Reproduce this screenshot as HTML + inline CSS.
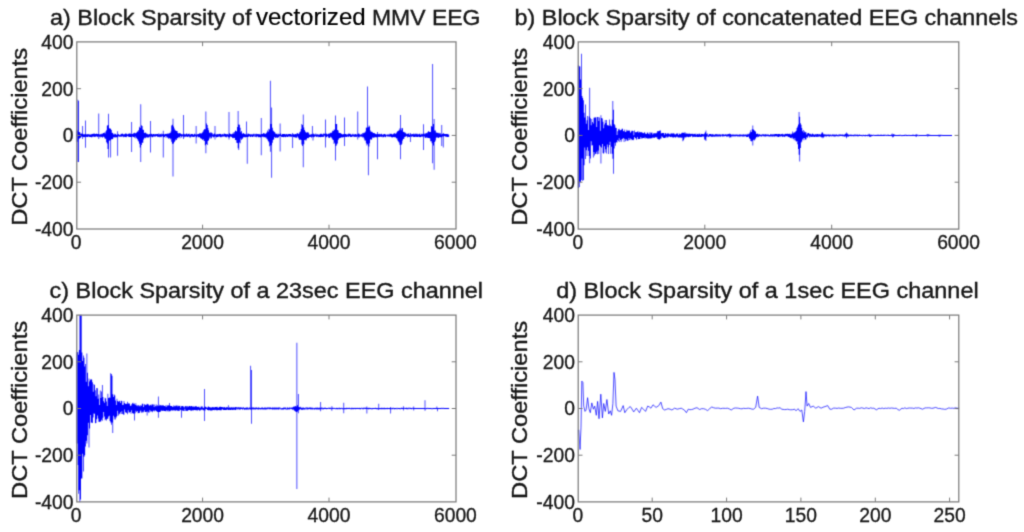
<!DOCTYPE html>
<html lang="en"><head><meta charset="utf-8"><title>Block Sparsity of EEG DCT Coefficients</title>
<style>
html,body{margin:0;padding:0;background:#fff;}
body{width:1024px;height:532px;overflow:hidden;}
svg{display:block;font-family:"Liberation Sans",Arial,Helvetica,sans-serif;}
.tt{font-size:21.5px;fill:#161616;stroke:#161616;stroke-width:0.35px;}
.tt .vz{font-size:23.2px;fill:#000;stroke:#000;stroke-width:0.2px;}
.tk{font-size:19.3px;fill:#161616;stroke:#161616;stroke-width:0.3px;}
.yl{font-size:22.7px;fill:#161616;stroke:#161616;stroke-width:0.35px;}
.ln{fill:#0000ff;stroke:none;filter:url(#bl);}
.ld{fill:none;stroke:#0000ff;stroke-width:0.8;stroke-opacity:0.88;filter:url(#bl);stroke-linejoin:round;}
</style></head><body>
<svg width="1024" height="532" viewBox="0 0 1024 532">
<defs><filter id="bl" x="-2%" y="-5%" width="104%" height="110%"><feConvolveMatrix order="3" kernelMatrix="0.0289 0.1122 0.0289 0.1122 0.4356 0.1122 0.0289 0.1122 0.0289" edgeMode="none"/></filter><filter id="bl2" filterUnits="userSpaceOnUse" x="0" y="0" width="1024" height="532"><feConvolveMatrix order="3" kernelMatrix="0.0196 0.1008 0.0196 0.1008 0.5184 0.1008 0.0196 0.1008 0.0196" edgeMode="none"/></filter></defs>
<rect width="1024" height="532" fill="#fff"/>
<path class="ln" d="M76.75 130.6V130.6H77.45V99.7H78.15V100.8H78.85V132.0H79.55V132.2H80.25V133.7H80.95V133.4H81.65V133.7H82.35V126.1H83.05V134.2H83.75V134.3H84.45V134.2H85.15V120.5H85.85V134.1H86.55V134.7H87.25V134.1H87.95V134.2H88.65V134.2H89.35V134.6H90.05V134.6H90.75V134.4H91.45V134.1H92.15V134.0H92.85V133.6H93.55V133.9H94.25V133.5H94.95V134.0H95.65V134.1H96.35V133.6H97.05V134.0H97.75V133.9H98.45V113.5H99.15V134.5H99.85V134.0H100.55V134.4H101.25V133.8H101.95V134.0H102.65V133.0H103.35V133.0H104.05V132.6H104.75V133.4H105.45V131.6H106.15V130.3H106.85V125.8H107.55V125.1H108.25V113.7H108.95V128.1H109.65V129.1H110.35V128.4H111.05V130.0H111.75V132.8H112.45V132.9H113.15V134.2H113.85V134.5H114.55V133.4H115.25V134.1H115.95V134.8H116.65V134.5H117.35V131.2H118.05V133.9H118.75V134.7H119.45V135.1H120.15V134.6H120.85V133.8H121.55V134.0H122.25V133.6H122.95V134.2H123.65V134.5H124.35V134.1H125.05V133.6H125.75V133.7H126.45V133.7H127.15V134.6H127.85V134.0H128.55V133.6H129.25V133.6H129.95V133.6H130.65V134.0H131.35V122.1H132.05V134.1H132.75V133.7H133.45V133.1H134.15V132.8H134.85V133.6H135.55V133.0H136.25V132.4H136.95V131.6H137.65V131.4H138.35V130.1H139.05V126.8H139.75V127.9H140.45V104.3H141.15V125.2H141.85V126.0H142.55V129.5H143.25V130.0H143.95V133.0H144.65V132.4H145.35V132.8H146.05V133.4H146.75V133.8H147.45V134.3H148.15V134.4H148.85V134.1H149.55V134.3H150.25V120.9H150.95V133.8H151.65V134.0H152.35V134.4H153.05V134.0H153.75V134.0H154.45V134.5H155.15V134.1H155.85V134.2H156.55V133.9H157.25V134.1H157.95V133.6H158.65V134.8H159.35V133.8H160.05V134.1H160.75V134.5H161.45V133.4H162.15V134.3H162.85V130.8H163.55V134.1H164.25V134.4H164.95V134.1H165.65V133.7H166.35V133.9H167.05V133.4H167.75V134.0H168.45V133.2H169.15V133.3H169.85V133.0H170.55V131.6H171.25V125.4H171.95V124.8H172.65V118.8H173.35V126.4H174.05V128.4H174.75V130.3H175.45V130.5H176.15V130.9H176.85V131.0H177.55V132.9H178.25V133.5H178.95V133.0H179.65V133.6H180.35V133.5H181.05V134.1H181.75V134.4H182.45V134.3H183.15V115.1H183.85V133.8H184.55V134.6H185.25V134.2H185.95V133.5H186.65V133.8H187.35V134.6H188.05V134.0H188.75V133.6H189.45V134.6H190.15V134.5H190.85V134.0H191.55V133.9H192.25V134.1H192.95V135.0H193.65V133.9H194.35V133.8H195.05V134.4H195.75V126.1H196.45V134.6H197.15V134.2H197.85V134.0H198.55V133.9H199.25V133.2H199.95V133.0H200.65V133.9H201.35V133.0H202.05V132.4H202.75V131.4H203.45V129.9H204.15V129.0H204.85V129.2H205.55V111.6H206.25V123.5H206.95V125.1H207.65V127.9H208.35V130.3H209.05V133.1H209.75V132.0H210.45V133.3H211.15V132.6H211.85V133.0H212.55V134.6H213.25V134.2H213.95V133.5H214.65V126.1H215.35V134.6H216.05V134.5H216.75V134.0H217.45V134.2H218.15V134.2H218.85V133.9H219.55V133.7H220.25V133.9H220.95V134.4H221.65V134.4H222.35V134.1H223.05V134.6H223.75V133.6H224.45V133.7H225.15V134.0H225.85V134.1H226.55V134.5H227.25V134.0H227.95V134.4H228.65V112.1H229.35V133.3H230.05V134.0H230.75V134.2H231.45V134.2H232.15V133.7H232.85V132.6H233.55V133.7H234.25V132.0H234.95V130.5H235.65V131.0H236.35V131.4H237.05V126.9H237.75V111.1H238.45V124.6H239.15V124.8H239.85V127.8H240.55V132.2H241.25V130.9H241.95V133.7H242.65V133.6H243.35V133.1H244.05V133.9H244.75V133.8H245.45V134.6H246.15V121.4H246.85V134.4H247.55V133.6H248.25V133.7H248.95V134.2H249.65V134.0H250.35V134.5H251.05V134.2H251.75V134.5H252.45V134.2H253.15V133.8H253.85V134.5H254.55V133.8H255.25V134.2H255.95V133.7H256.65V134.2H257.35V134.0H258.05V134.1H258.75V134.4H259.45V134.0H260.15V134.5H260.85V118.1H261.55V134.1H262.25V134.0H262.95V133.1H263.65V133.6H264.35V133.4H265.05V134.1H265.75V133.2H266.45V132.4H267.15V130.5H267.85V131.8H268.55V128.8H269.25V129.6H269.95V80.7H270.65V123.9H271.35V107.4H272.05V127.7H272.75V130.6H273.45V131.3H274.15V131.9H274.85V132.8H275.55V134.1H276.25V133.8H276.95V134.4H277.65V133.4H278.35V134.2H279.05V134.3H279.75V123.5H280.45V133.6H281.15V135.1H281.85V134.0H282.55V134.1H283.25V133.9H283.95V134.0H284.65V134.0H285.35V134.4H286.05V134.0H286.75V134.3H287.45V134.6H288.15V134.0H288.85V133.9H289.55V134.0H290.25V134.1H290.95V134.4H291.65V134.6H292.35V133.1H293.05V134.0H293.75V134.7H294.45V134.1H295.15V134.0H295.85V134.2H296.55V133.6H297.25V133.1H297.95V134.0H298.65V133.5H299.35V132.2H300.05V131.6H300.75V129.1H301.45V124.1H302.15V125.1H302.85V114.4H303.55V127.4H304.25V129.9H304.95V131.5H305.65V132.3H306.35V132.8H307.05V132.3H307.75V132.3H308.45V133.2H309.15V134.4H309.85V134.9H310.55V134.0H311.25V134.2H311.95V126.1H312.65V134.3H313.35V133.6H314.05V134.2H314.75V134.8H315.45V133.6H316.15V134.5H316.85V133.9H317.55V134.7H318.25V134.5H318.95V134.7H319.65V133.9H320.35V133.7H321.05V133.7H321.75V134.2H322.45V134.5H323.15V133.6H323.85V133.8H324.55V133.8H325.25V119.5H325.95V133.5H326.65V134.0H327.35V134.4H328.05V133.8H328.75V133.4H329.45V133.5H330.15V132.7H330.85V132.9H331.55V132.2H332.25V130.8H332.95V131.0H333.65V129.5H334.35V129.8H335.05V115.6H335.75V124.0H336.45V124.0H337.15V130.0H337.85V130.4H338.55V132.7H339.25V133.1H339.95V133.0H340.65V133.4H341.35V133.9H342.05V134.4H342.75V134.0H343.45V134.2H344.15V117.4H344.85V134.1H345.55V134.1H346.25V134.4H346.95V134.4H347.65V134.3H348.35V133.6H349.05V133.8H349.75V133.7H350.45V134.3H351.15V134.7H351.85V134.5H352.55V133.8H353.25V134.6H353.95V134.5H354.65V134.2H355.35V134.1H356.05V134.4H356.75V134.5H357.45V111.6H358.15V133.6H358.85V133.7H359.55V134.6H360.25V134.7H360.95V133.9H361.65V134.5H362.35V133.1H363.05V133.3H363.75V132.4H364.45V132.7H365.15V131.6H365.85V127.8H366.55V127.4H367.25V86.6H367.95V127.3H368.65V125.5H369.35V126.6H370.05V130.6H370.75V132.0H371.45V131.6H372.15V132.2H372.85V132.9H373.55V132.9H374.25V133.3H374.95V133.7H375.65V134.1H376.35V134.3H377.05V131.9H377.75V134.0H378.45V134.2H379.15V133.7H379.85V134.5H380.55V133.9H381.25V133.8H381.95V134.9H382.65V134.1H383.35V134.5H384.05V133.9H384.75V134.1H385.45V134.7H386.15V134.7H386.85V134.5H387.55V134.4H388.25V134.4H388.95V134.6H389.65V133.6H390.35V134.1H391.05V133.7H391.75V134.3H392.45V134.5H393.15V133.8H393.85V133.4H394.55V132.9H395.25V134.0H395.95V133.3H396.65V132.0H397.35V130.9H398.05V130.7H398.75V130.3H399.45V128.4H400.15V115.1H400.85V130.2H401.55V128.1H402.25V128.3H402.95V131.8H403.65V131.9H404.35V132.6H405.05V132.8H405.75V133.4H406.45V134.3H407.15V133.8H407.85V133.7H408.55V133.3H409.25V134.8H409.95V133.1H410.65V134.2H411.35V134.3H412.05V134.0H412.75V134.2H413.45V133.6H414.15V134.2H414.85V133.6H415.55V134.2H416.25V133.7H416.95V133.7H417.65V134.6H418.35V134.3H419.05V133.8H419.75V133.7H420.45V135.0H421.15V133.7H421.85V134.3H422.55V133.7H423.25V124.2H423.95V134.2H424.65V133.1H425.35V133.8H426.05V133.0H426.75V133.3H427.45V132.1H428.15V130.9H428.85V132.1H429.55V131.7H430.25V131.9H430.95V125.9H431.65V126.7H432.35V64.1H433.05V124.1H433.75V119.1H434.45V130.4H435.15V130.5H435.85V132.8H436.55V132.3H437.25V132.9H437.95V133.3H438.65V132.8H439.35V133.6H440.05V133.2H440.75V134.5H441.45V124.9H442.15V134.1H442.85V133.1H443.55V133.8H444.25V134.0H444.95V134.0H445.65V134.0H446.35V134.1H447.05V134.1H447.75V134.3H448.45V134.8H449.15V136.8H448.45V137.0H447.75V136.9H447.05V136.8H446.35V136.7H445.65V136.5H444.95V136.0H444.25V136.4H443.55V147.4H442.85V136.4H442.15V146.0H441.45V137.2H440.75V137.3H440.05V137.0H439.35V137.8H438.65V137.9H437.95V137.5H437.25V137.2H436.55V137.7H435.85V140.6H435.15V141.9H434.45V169.8H433.75V145.5H433.05V163.3H432.35V143.3H431.65V141.2H430.95V141.3H430.25V138.4H429.55V138.0H428.85V138.1H428.15V138.0H427.45V137.4H426.75V137.6H426.05V137.9H425.35V137.6H424.65V136.5H423.95V150.0H423.25V136.2H422.55V137.1H421.85V136.6H421.15V137.1H420.45V137.2H419.75V136.9H419.05V136.4H418.35V137.0H417.65V136.9H416.95V137.0H416.25V136.6H415.55V137.0H414.85V137.0H414.15V136.9H413.45V136.7H412.75V136.3H412.05V136.9H411.35V136.2H410.65V142.0H409.95V137.1H409.25V137.0H408.55V136.7H407.85V137.5H407.15V136.3H406.45V136.2H405.75V136.8H405.05V137.0H404.35V138.8H403.65V138.9H402.95V140.5H402.25V143.8H401.55V145.0H400.85V159.3H400.15V144.8H399.45V142.4H398.75V141.5H398.05V140.4H397.35V138.5H396.65V138.2H395.95V137.2H395.25V137.6H394.55V137.0H393.85V137.0H393.15V137.4H392.45V137.3H391.75V137.2H391.05V136.8H390.35V136.5H389.65V136.7H388.95V136.5H388.25V136.6H387.55V136.5H386.85V135.8H386.15V137.2H385.45V137.0H384.75V136.6H384.05V136.9H383.35V137.4H382.65V136.6H381.95V137.1H381.25V136.6H380.55V136.7H379.85V137.0H379.15V136.8H378.45V137.0H377.75V159.3H377.05V137.3H376.35V137.5H375.65V137.0H374.95V137.4H374.25V137.3H373.55V138.1H372.85V137.4H372.15V139.2H371.45V140.1H370.75V139.3H370.05V143.2H369.35V146.6H368.65V175.2H367.95V144.2H367.25V145.4H366.55V143.3H365.85V140.5H365.15V140.4H364.45V138.5H363.75V137.3H363.05V137.6H362.35V136.5H361.65V136.7H360.95V136.5H360.25V136.6H359.55V137.4H358.85V137.3H358.15V139.4H357.45V136.3H356.75V137.1H356.05V136.7H355.35V137.0H354.65V136.8H353.95V136.4H353.25V136.6H352.55V136.5H351.85V136.9H351.15V136.9H350.45V136.9H349.75V136.1H349.05V136.7H348.35V137.0H347.65V136.3H346.95V136.9H346.25V136.9H345.55V136.8H344.85V146.0H344.15V136.9H343.45V137.2H342.75V137.5H342.05V137.1H341.35V138.1H340.65V137.8H339.95V138.1H339.25V138.8H338.55V140.0H337.85V143.4H337.15V144.5H336.45V145.9H335.75V160.5H335.05V142.7H334.35V144.0H333.65V140.0H332.95V139.6H332.25V138.2H331.55V137.3H330.85V136.8H330.15V137.9H329.45V137.7H328.75V137.6H328.05V135.9H327.35V137.1H326.65V137.3H325.95V147.4H325.25V136.6H324.55V135.6H323.85V137.1H323.15V136.9H322.45V136.7H321.75V136.9H321.05V137.3H320.35V137.0H319.65V136.9H318.95V137.3H318.25V136.3H317.55V137.0H316.85V136.9H316.15V136.1H315.45V136.8H314.75V136.7H314.05V137.3H313.35V140.6H312.65V136.8H311.95V137.7H311.25V136.8H310.55V136.9H309.85V136.9H309.15V137.7H308.45V138.2H307.75V138.0H307.05V139.2H306.35V140.7H305.65V139.7H304.95V140.1H304.25V144.2H303.55V167.3H302.85V146.1H302.15V144.4H301.45V140.1H300.75V139.5H300.05V139.9H299.35V139.3H298.65V137.7H297.95V136.6H297.25V137.6H296.55V137.7H295.85V137.4H295.15V137.2H294.45V137.2H293.75V136.9H293.05V148.1H292.35V136.3H291.65V137.0H290.95V136.6H290.25V136.9H289.55V136.3H288.85V136.4H288.15V136.9H287.45V136.9H286.75V136.5H286.05V137.2H285.35V136.9H284.65V136.7H283.95V137.3H283.25V136.9H282.55V137.0H281.85V137.0H281.15V136.0H280.45V151.4H279.75V136.3H279.05V136.9H278.35V137.8H277.65V137.8H276.95V137.5H276.25V137.6H275.55V138.0H274.85V137.0H274.15V139.3H273.45V139.9H272.75V142.7H272.05V177.8H271.35V145.3H270.65V151.8H269.95V146.2H269.25V142.2H268.55V141.0H267.85V139.6H267.15V138.8H266.45V137.6H265.75V137.4H265.05V137.1H264.35V137.4H263.65V136.7H262.95V136.7H262.25V136.8H261.55V155.3H260.85V137.5H260.15V136.9H259.45V137.2H258.75V137.3H258.05V136.6H257.35V136.4H256.65V137.2H255.95V136.9H255.25V135.6H254.55V137.0H253.85V136.2H253.15V137.1H252.45V136.9H251.75V136.3H251.05V137.0H250.35V137.1H249.65V136.0H248.95V136.7H248.25V136.9H247.55V163.7H246.85V137.0H246.15V137.6H245.45V136.9H244.75V137.2H244.05V137.1H243.35V138.0H242.65V139.0H241.95V140.1H241.25V138.6H240.55V143.3H239.85V142.5H239.15V150.0H238.45V148.3H237.75V143.1H237.05V142.7H236.35V139.9H235.65V139.9H234.95V138.1H234.25V137.7H233.55V138.2H232.85V138.1H232.15V137.0H231.45V136.7H230.75V136.6H230.05V137.4H229.35V139.4H228.65V137.2H227.95V136.5H227.25V136.8H226.55V137.4H225.85V136.9H225.15V136.6H224.45V136.4H223.75V136.4H223.05V136.8H222.35V136.4H221.65V137.3H220.95V137.3H220.25V137.0H219.55V136.3H218.85V136.7H218.15V137.0H217.45V136.9H216.75V137.4H216.05V136.4H215.35V139.4H214.65V136.8H213.95V137.4H213.25V136.8H212.55V136.6H211.85V138.2H211.15V138.5H210.45V136.8H209.75V138.5H209.05V140.2H208.35V141.1H207.65V145.1H206.95V143.9H206.25V153.2H205.55V145.2H204.85V141.1H204.15V140.4H203.45V139.0H202.75V140.0H202.05V138.7H201.35V138.8H200.65V137.9H199.95V137.0H199.25V137.6H198.55V137.1H197.85V136.2H197.15V137.3H196.45V143.4H195.75V136.3H195.05V136.7H194.35V136.8H193.65V137.0H192.95V136.7H192.25V136.9H191.55V136.2H190.85V137.4H190.15V137.4H189.45V136.5H188.75V136.4H188.05V137.0H187.35V136.7H186.65V136.5H185.95V136.7H185.25V136.6H184.55V137.3H183.85V139.0H183.15V136.2H182.45V136.5H181.75V137.4H181.05V136.0H180.35V138.2H179.65V137.1H178.95V137.2H178.25V138.2H177.55V138.3H176.85V140.0H176.15V139.4H175.45V140.7H174.75V142.0H174.05V143.4H173.35V176.4H172.65V143.7H171.95V141.8H171.25V138.6H170.55V139.5H169.85V138.1H169.15V139.0H168.45V137.8H167.75V137.4H167.05V136.4H166.35V137.8H165.65V136.0H164.95V137.0H164.25V137.3H163.55V157.4H162.85V136.3H162.15V136.6H161.45V137.2H160.75V136.7H160.05V137.2H159.35V136.5H158.65V137.1H157.95V137.0H157.25V136.1H156.55V136.3H155.85V136.6H155.15V137.0H154.45V136.1H153.75V136.7H153.05V137.3H152.35V137.3H151.65V136.6H150.95V152.5H150.25V136.6H149.55V137.3H148.85V137.4H148.15V137.5H147.45V137.5H146.75V137.3H146.05V138.3H145.35V137.4H144.65V138.2H143.95V139.4H143.25V142.8H142.55V142.8H141.85V145.1H141.15V161.9H140.45V147.5H139.75V143.7H139.05V141.6H138.35V140.5H137.65V138.9H136.95V137.7H136.25V138.4H135.55V136.4H134.85V137.8H134.15V137.0H133.45V136.9H132.75V136.6H132.05V152.1H131.35V136.9H130.65V136.9H129.95V137.1H129.25V136.9H128.55V136.5H127.85V136.0H127.15V136.7H126.45V137.2H125.75V136.9H125.05V137.0H124.35V136.4H123.65V137.3H122.95V136.6H122.25V136.3H121.55V136.9H120.85V136.4H120.15V137.1H119.45V136.2H118.75V136.4H118.05V155.8H117.35V137.2H116.65V137.2H115.95V137.2H115.25V137.8H114.55V137.1H113.85V137.4H113.15V138.9H112.45V139.3H111.75V139.2H111.05V157.4H110.35V140.2H109.65V140.7H108.95V157.4H108.25V148.9H107.55V143.4H106.85V142.2H106.15V138.8H105.45V138.8H104.75V137.6H104.05V136.8H103.35V136.8H102.65V137.8H101.95V137.1H101.25V136.6H100.55V137.6H99.85V136.8H99.15V139.0H98.45V136.4H97.75V136.9H97.05V136.4H96.35V136.2H95.65V136.9H94.95V136.9H94.25V136.6H93.55V136.7H92.85V136.8H92.15V137.4H91.45V137.1H90.75V137.1H90.05V136.9H89.35V136.7H88.65V136.6H87.95V137.1H87.25V136.9H86.55V136.7H85.85V147.8H85.15V137.1H84.45V137.3H83.75V137.1H83.05V139.0H82.35V136.8H81.65V136.4H80.95V137.8H80.25V138.0H79.55V139.1H78.85V161.9H78.15V161.9H77.45V141.8H76.75Z"/>
<path class="ln" d="M578.20 65.5V65.5H578.90V66.2H579.60V66.6H580.30V79.6H581.00V53.8H581.70V96.0H582.40V98.0H583.10V100.3H583.80V112.8H584.50V117.4H585.20V104.6H585.90V123.8H586.60V120.3H587.30V116.1H588.00V130.1H588.70V116.4H589.40V87.7H590.10V118.2H590.80V125.3H591.50V119.0H592.20V122.1H592.90V123.6H593.60V117.7H594.30V117.5H595.00V117.5H595.70V117.3H596.40V127.0H597.10V117.0H597.80V116.9H598.50V120.9H599.20V117.5H599.90V130.7H600.60V115.3H601.30V118.0H602.00V118.4H602.70V121.8H603.40V128.3H604.10V124.4H604.80V120.0H605.50V123.0H606.20V120.0H606.90V125.0H607.60V125.6H608.30V125.5H609.00V119.4H609.70V126.0H610.40V124.4H611.10V126.3H611.80V119.8H612.50V101.0H613.20V109.7H613.90V124.1H614.60V125.3H615.30V127.8H616.00V128.1H616.70V135.1H617.40V131.3H618.10V129.3H618.80V128.8H619.50V130.3H620.20V130.2H620.90V129.9H621.60V128.7H622.30V128.8H623.00V131.0H623.70V131.6H624.40V129.5H625.10V132.1H625.80V131.4H626.50V129.7H627.20V130.8H627.90V130.5H628.60V130.8H629.30V130.4H630.00V132.8H630.70V131.7H631.40V130.8H632.10V130.7H632.80V130.9H633.50V135.2H634.20V130.6H634.90V131.9H635.60V132.4H636.30V132.1H637.00V131.7H637.70V131.3H638.40V132.8H639.10V131.8H639.80V132.4H640.50V132.0H641.20V132.2H641.90V132.4H642.60V133.1H643.30V133.3H644.00V132.3H644.70V132.8H645.40V133.9H646.10V133.9H646.80V132.4H647.50V132.8H648.20V134.0H648.90V132.4H649.60V134.4H650.30V132.6H651.00V132.7H651.70V132.5H652.40V134.6H653.10V133.5H653.80V133.1H654.50V133.4H655.20V133.3H655.90V133.2H656.60V132.5H657.30V131.1H658.00V131.2H658.70V131.0H659.40V130.6H660.10V130.5H660.80V133.4H661.50V133.1H662.20V133.1H662.90V132.9H663.60V133.0H664.30V134.7H665.00V133.0H665.70V133.4H666.40V134.3H667.10V133.2H667.80V133.8H668.50V133.2H669.20V134.2H669.90V134.2H670.60V133.2H671.30V133.4H672.00V133.4H672.70V133.4H673.40V133.3H674.10V133.7H674.80V134.8H675.50V134.0H676.20V133.4H676.90V133.4H677.60V133.4H678.30V135.0H679.00V133.6H679.70V134.2H680.40V133.9H681.10V133.3H681.80V132.7H682.50V132.7H683.20V132.8H683.90V133.2H684.60V132.1H685.30V133.5H686.00V133.6H686.70V133.6H687.40V133.7H688.10V133.8H688.80V133.8H689.50V133.6H690.20V133.9H690.90V133.8H691.60V133.9H692.30V133.8H693.00V134.3H693.70V133.7H694.40V134.0H695.10V133.7H695.80V134.9H696.50V133.8H697.20V133.9H697.90V134.4H698.60V133.8H699.30V133.8H700.00V134.7H700.70V133.8H701.40V134.1H702.10V133.9H702.80V134.3H703.50V134.3H704.20V133.5H704.90V132.3H705.60V130.5H706.30V133.7H707.00V133.6H707.70V135.4H708.40V134.4H709.10V134.0H709.80V134.0H710.50V134.0H711.20V134.5H711.90V134.0H712.60V134.4H713.30V134.5H714.00V134.8H714.70V134.6H715.40V134.1H716.10V134.2H716.80V134.3H717.50V134.5H718.20V134.6H718.90V134.2H719.60V134.5H720.30V134.6H721.00V134.8H721.70V134.2H722.40V134.2H723.10V134.2H723.80V134.7H724.50V134.4H725.20V134.3H725.90V134.5H726.60V134.6H727.30V134.3H728.00V134.1H728.70V134.2H729.40V133.4H730.10V133.9H730.80V134.4H731.50V134.7H732.20V134.4H732.90V134.3H733.60V134.9H734.30V134.4H735.00V134.8H735.70V134.3H736.40V134.7H737.10V134.6H737.80V135.0H738.50V134.4H739.20V134.5H739.90V134.4H740.60V134.6H741.30V134.8H742.00V134.8H742.70V134.3H743.40V134.5H744.10V134.8H744.80V134.3H745.50V134.8H746.20V134.4H746.90V134.4H747.60V133.8H748.30V134.2H749.00V133.6H749.70V132.2H750.40V130.3H751.10V131.9H751.80V129.3H752.50V125.6H753.20V129.6H753.90V130.3H754.60V131.0H755.30V131.7H756.00V134.1H756.70V133.4H757.40V133.8H758.10V134.4H758.80V134.1H759.50V134.4H760.20V134.8H760.90V134.8H761.60V134.5H762.30V134.3H763.00V134.3H763.70V134.4H764.40V134.6H765.10V134.3H765.80V134.3H766.50V134.8H767.20V134.5H767.90V134.3H768.60V135.1H769.30V135.0H770.00V134.2H770.70V134.2H771.40V134.4H772.10V134.3H772.80V134.7H773.50V134.1H774.20V134.2H774.90V134.1H775.60V134.0H776.30V134.0H777.00V134.2H777.70V134.0H778.40V134.0H779.10V133.9H779.80V134.2H780.50V134.5H781.20V133.9H781.90V133.8H782.60V134.3H783.30V134.5H784.00V134.4H784.70V133.9H785.40V133.8H786.10V133.9H786.80V133.8H787.50V133.8H788.20V134.1H788.90V134.0H789.60V133.6H790.30V134.4H791.00V134.3H791.70V133.5H792.40V131.6H793.10V133.2H793.80V132.3H794.50V132.5H795.20V131.5H795.90V130.7H796.60V128.0H797.30V126.5H798.00V124.4H798.70V112.0H799.40V116.7H800.10V123.3H800.80V124.8H801.50V128.0H802.20V131.2H802.90V130.1H803.60V132.6H804.30V131.3H805.00V132.3H805.70V132.2H806.40V134.4H807.10V133.6H807.80V133.0H808.50V133.1H809.20V134.1H809.90V133.7H810.60V134.3H811.30V134.4H812.00V133.6H812.70V133.9H813.40V134.4H814.10V134.7H814.80V133.9H815.50V134.5H816.20V134.3H816.90V134.0H817.60V134.0H818.30V134.4H819.00V134.1H819.70V134.8H820.40V134.3H821.10V133.4H821.80V131.9H822.50V132.9H823.20V134.3H823.90V134.2H824.60V134.5H825.30V134.5H826.00V134.4H826.70V134.8H827.40V134.4H828.10V134.5H828.80V134.6H829.50V134.8H830.20V134.4H830.90V135.2H831.60V134.4H832.30V134.4H833.00V134.5H833.70V134.7H834.40V134.5H835.10V134.8H835.80V134.5H836.50V134.5H837.20V135.1H837.90V134.8H838.60V134.6H839.30V134.5H840.00V134.6H840.70V134.6H841.40V134.8H842.10V134.6H842.80V134.5H843.50V135.0H844.20V134.4H844.90V133.8H845.60V133.7H846.30V132.5H847.00V133.6H847.70V134.3H848.40V134.8H849.10V134.7H849.80V134.7H850.50V134.6H851.20V134.8H851.90V134.8H852.60V135.0H853.30V134.7H854.00V134.6H854.70V134.7H855.40V134.6H856.10V134.8H856.80V134.7H857.50V134.6H858.20V135.1H858.90V134.6H859.60V134.8H860.30V135.0H861.00V134.9H861.70V134.7H862.40V135.2H863.10V134.7H863.80V135.0H864.50V134.9H865.20V134.7H865.90V135.1H866.60V135.0H867.30V134.8H868.00V134.8H868.70V133.8H869.40V134.5H870.10V134.7H870.80V134.8H871.50V134.8H872.20V135.0H872.90V134.7H873.60V134.7H874.30V134.9H875.00V134.9H875.70V134.7H876.40V135.0H877.10V134.8H877.80V134.8H878.50V134.7H879.20V134.9H879.90V134.7H880.60V134.8H881.30V134.8H882.00V135.0H882.70V134.8H883.40V134.8H884.10V134.8H884.80V134.8H885.50V134.8H886.20V135.0H886.90V134.7H887.60V134.8H888.30V134.8H889.00V134.9H889.70V134.9H890.40V134.9H891.10V134.5H891.80V133.5H892.50V134.8H893.20V134.1H893.90V134.5H894.60V134.7H895.30V134.9H896.00V135.0H896.70V135.0H897.40V134.9H898.10V134.9H898.80V134.8H899.50V135.1H900.20V134.8H900.90V135.0H901.60V135.2H902.30V134.9H903.00V135.1H903.70V134.9H904.40V134.8H905.10V134.8H905.80V134.8H906.50V134.9H907.20V134.9H907.90V135.1H908.60V134.8H909.30V135.0H910.00V134.9H910.70V134.9H911.40V135.1H912.10V134.8H912.80V134.8H913.50V134.8H914.20V134.9H914.90V135.1H915.60V134.2H916.30V134.6H917.00V134.8H917.70V134.8H918.40V135.2H919.10V135.0H919.80V135.0H920.50V134.9H921.20V135.0H921.90V135.0H922.60V135.0H923.30V135.0H924.00V135.0H924.70V135.0H925.40V134.9H926.10V134.8H926.80V134.4H927.50V134.3H928.20V134.6H928.90V134.7H929.60V134.8H930.30V134.9H931.00V135.1H931.70V135.0H932.40V134.9H933.10V135.0H933.80V135.0H934.50V134.9H935.20V134.9H935.90V135.0H936.60V134.9H937.30V135.0H938.00V135.0H938.70V134.5H939.40V135.1H940.10V134.7H940.80V134.9H941.50V134.8H942.20V134.9H942.90V134.9H943.60V135.0H944.30V134.9H945.00V134.9H945.70V134.9H946.40V134.9H947.10V135.0H947.80V135.0H948.50V134.9H949.20V134.9H949.90V134.9H950.60V134.9H951.30V134.9H952.00V135.9H951.30V135.9H950.60V135.9H949.90V135.9H949.20V135.9H948.50V136.0H947.80V136.0H947.10V135.9H946.40V135.9H945.70V135.9H945.00V136.0H944.30V136.0H943.60V135.9H942.90V135.9H942.20V135.8H941.50V135.9H940.80V136.3H940.10V136.3H939.40V136.8H938.70V136.0H938.00V136.0H937.30V135.9H936.60V136.0H935.90V135.9H935.20V135.9H934.50V136.0H933.80V136.0H933.10V136.0H932.40V136.0H931.70V136.1H931.00V135.9H930.30V136.0H929.60V136.0H928.90V136.0H928.20V136.8H927.50V135.8H926.80V136.0H926.10V136.0H925.40V136.0H924.70V136.0H924.00V136.0H923.30V136.0H922.60V136.0H921.90V136.0H921.20V135.9H920.50V136.0H919.80V136.0H919.10V136.2H918.40V135.8H917.70V136.1H917.00V136.4H916.30V136.7H915.60V136.1H914.90V136.0H914.20V136.0H913.50V135.9H912.80V136.0H912.10V136.1H911.40V135.9H910.70V135.9H910.00V136.0H909.30V135.8H908.60V136.1H907.90V135.9H907.20V135.9H906.50V135.9H905.80V135.8H905.10V136.0H904.40V136.0H903.70V136.1H903.00V136.0H902.30V136.2H901.60V136.0H900.90V135.8H900.20V136.1H899.50V136.0H898.80V135.9H898.10V135.9H897.40V136.0H896.70V136.0H896.00V135.9H895.30V135.9H894.60V136.1H893.90V136.7H893.20V137.5H892.50V136.6H891.80V136.1H891.10V135.9H890.40V136.1H889.70V136.0H889.00V135.9H888.30V136.1H887.60V135.7H886.90V136.1H886.20V135.8H885.50V135.8H884.80V135.9H884.10V136.0H883.40V135.9H882.70V136.0H882.00V136.1H881.30V136.1H880.60V136.1H879.90V135.9H879.20V135.9H878.50V135.9H877.80V136.1H877.10V136.1H876.40V136.0H875.70V136.1H875.00V136.1H874.30V135.8H873.60V135.7H872.90V136.1H872.20V135.9H871.50V136.5H870.80V136.8H870.10V137.0H869.40V136.2H868.70V136.1H868.00V136.2H867.30V136.0H866.60V136.1H865.90V136.2H865.20V136.2H864.50V136.1H863.80V136.0H863.10V136.2H862.40V136.2H861.70V135.9H861.00V136.0H860.30V136.0H859.60V135.9H858.90V136.2H858.20V136.2H857.50V136.2H856.80V135.9H856.10V136.2H855.40V135.8H854.70V136.2H854.00V136.2H853.30V136.2H852.60V136.1H851.90V136.2H851.20V136.0H850.50V136.2H849.80V136.0H849.10V136.4H848.40V136.8H847.70V136.5H847.00V138.3H846.30V136.7H845.60V136.2H844.90V136.8H844.20V136.2H843.50V136.3H842.80V136.2H842.10V136.1H841.40V136.0H840.70V136.0H840.00V136.3H839.30V135.7H838.60V136.4H837.90V136.2H837.20V136.3H836.50V135.9H835.80V136.4H835.10V136.4H834.40V136.4H833.70V136.3H833.00V136.1H832.30V136.4H831.60V136.2H830.90V136.1H830.20V136.4H829.50V136.4H828.80V136.3H828.10V136.0H827.40V136.3H826.70V136.5H826.00V136.3H825.30V136.5H824.60V136.5H823.90V137.6H823.20V138.2H822.50V137.1H821.80V137.6H821.10V136.4H820.40V136.9H819.70V136.3H819.00V136.8H818.30V136.6H817.60V136.9H816.90V136.9H816.20V136.2H815.50V136.9H814.80V137.1H814.10V137.0H813.40V136.3H812.70V137.1H812.00V137.0H811.30V136.6H810.60V136.7H809.90V137.6H809.20V135.8H808.50V136.5H807.80V137.7H807.10V137.3H806.40V139.5H805.70V139.6H805.00V138.1H804.30V140.3H803.60V138.3H802.90V139.5H802.20V141.6H801.50V142.6H800.80V148.1H800.10V161.4H799.40V154.8H798.70V149.0H798.00V144.2H797.30V141.0H796.60V141.7H795.90V140.4H795.20V138.3H794.50V140.2H793.80V138.8H793.10V138.5H792.40V137.2H791.70V138.2H791.00V137.9H790.30V137.7H789.60V137.0H788.90V137.1H788.20V136.7H787.50V136.0H786.80V136.2H786.10V136.3H785.40V136.6H784.70V137.0H784.00V136.6H783.30V136.4H782.60V137.0H781.90V135.9H781.20V136.8H780.50V136.3H779.80V136.6H779.10V136.9H778.40V136.9H777.70V136.5H777.00V136.6H776.30V136.1H775.60V136.4H774.90V136.7H774.20V136.0H773.50V136.7H772.80V136.6H772.10V136.5H771.40V136.3H770.70V136.6H770.00V136.6H769.30V136.5H768.60V136.3H767.90V136.3H767.20V136.1H766.50V136.4H765.80V136.6H765.10V136.6H764.40V136.2H763.70V136.3H763.00V135.7H762.30V136.4H761.60V136.5H760.90V136.2H760.20V136.3H759.50V136.3H758.80V137.0H758.10V136.4H757.40V137.6H756.70V137.1H756.00V138.4H755.30V139.5H754.60V140.6H753.90V139.7H753.20V145.5H752.50V140.7H751.80V141.4H751.10V140.9H750.40V139.0H749.70V138.3H749.00V136.6H748.30V136.9H747.60V136.9H746.90V137.0H746.20V136.4H745.50V136.1H744.80V136.4H744.10V136.6H743.40V136.4H742.70V136.6H742.00V136.3H741.30V136.3H740.60V136.6H739.90V136.5H739.20V136.6H738.50V136.2H737.80V136.5H737.10V136.3H736.40V136.0H735.70V136.6H735.00V136.2H734.30V136.6H733.60V136.2H732.90V136.5H732.20V135.9H731.50V137.2H730.80V137.2H730.10V137.7H729.40V136.2H728.70V136.6H728.00V136.5H727.30V136.5H726.60V136.6H725.90V135.9H725.20V136.1H724.50V136.6H723.80V136.3H723.10V136.6H722.40V136.4H721.70V135.8H721.00V136.7H720.30V136.2H719.60V136.4H718.90V136.4H718.20V136.5H717.50V136.5H716.80V136.6H716.10V136.5H715.40V136.6H714.70V136.7H714.00V136.5H713.30V136.8H712.60V136.8H711.90V136.8H711.20V136.7H710.50V136.1H709.80V136.4H709.10V136.7H708.40V137.0H707.70V136.2H707.00V136.8H706.30V140.9H705.60V139.8H704.90V139.5H704.20V136.4H703.50V136.5H702.80V136.4H702.10V137.0H701.40V136.8H700.70V136.9H700.00V136.8H699.30V136.9H698.60V136.9H697.90V136.9H697.20V137.1H696.50V136.4H695.80V137.1H695.10V137.1H694.40V136.6H693.70V137.0H693.00V137.2H692.30V136.2H691.60V135.8H690.90V136.9H690.20V136.6H689.50V136.9H688.80V137.2H688.10V136.9H687.40V136.5H686.70V137.3H686.00V137.5H685.30V136.9H684.60V138.5H683.90V140.2H683.20V141.3H682.50V137.6H681.80V137.8H681.10V137.5H680.40V137.4H679.70V137.4H679.00V137.4H678.30V137.4H677.60V136.7H676.90V136.7H676.20V137.4H675.50V137.5H674.80V137.0H674.10V137.5H673.40V137.6H672.70V137.3H672.00V136.8H671.30V137.2H670.60V137.1H669.90V136.5H669.20V136.4H668.50V137.2H667.80V137.6H667.10V136.5H666.40V137.8H665.70V137.5H665.00V137.9H664.30V137.9H663.60V137.8H662.90V136.9H662.20V136.3H661.50V138.6H660.80V138.4H660.10V139.4H659.40V139.6H658.70V139.2H658.00V139.0H657.30V137.2H656.60V137.6H655.90V137.1H655.20V137.9H654.50V137.5H653.80V137.8H653.10V137.4H652.40V138.3H651.70V138.3H651.00V138.4H650.30V138.2H649.60V138.4H648.90V138.5H648.20V138.5H647.50V138.5H646.80V138.0H646.10V138.6H645.40V137.2H644.70V138.2H644.00V138.1H643.30V138.1H642.60V138.4H641.90V138.6H641.20V137.0H640.50V138.8H639.80V139.0H639.10V139.1H638.40V139.3H637.70V137.0H637.00V139.8H636.30V138.5H635.60V138.0H634.90V136.9H634.20V139.4H633.50V140.2H632.80V139.9H632.10V139.1H631.40V140.3H630.70V138.4H630.00V139.9H629.30V137.9H628.60V140.6H627.90V140.8H627.20V140.6H626.50V138.9H625.80V141.2H625.10V138.7H624.40V142.1H623.70V138.1H623.00V138.7H622.30V139.2H621.60V141.8H620.90V140.1H620.20V141.9H619.50V138.2H618.80V141.3H618.10V140.1H617.40V142.4H616.70V142.2H616.00V145.8H615.30V142.8H614.60V148.5H613.90V173.8H613.20V158.8H612.50V153.8H611.80V146.8H611.10V153.7H610.40V141.7H609.70V144.9H609.00V154.1H608.30V147.3H607.60V144.5H606.90V153.4H606.20V149.2H605.50V152.5H604.80V146.2H604.10V153.8H603.40V153.1H602.70V143.9H602.00V147.6H601.30V163.5H600.60V146.6H599.90V145.3H599.20V154.1H598.50V150.5H597.80V154.2H597.10V151.8H596.40V153.9H595.70V153.8H595.00V155.6H594.30V151.9H593.60V157.6H592.90V145.3H592.20V145.6H591.50V141.2H590.80V158.5H590.10V163.3H589.40V156.0H588.70V150.8H588.00V147.2H587.30V155.9H586.60V150.3H585.90V159.1H585.20V147.6H584.50V165.2H583.80V179.9H583.10V181.0H582.40V158.6H581.70V179.9H581.00V182.1H580.30V182.2H579.60V186.9H578.90V188.1H578.20Z"/>
<path class="ln" d="M76.75 352.3V352.3H77.45V351.9H78.15V354.8H78.85V350.1H79.55V315.1H80.25V315.1H80.95V315.1H81.65V352.5H82.35V360.9H83.05V355.6H83.75V357.7H84.45V366.5H85.15V364.0H85.85V381.8H86.55V353.4H87.25V372.7H87.95V386.3H88.65V378.6H89.35V381.6H90.05V379.7H90.75V379.0H91.45V379.8H92.15V382.3H92.85V391.8H93.55V383.9H94.25V385.0H94.95V390.3H95.65V396.3H96.35V388.1H97.05V388.3H97.75V398.8H98.45V394.6H99.15V405.0H99.85V390.6H100.55V397.9H101.25V391.5H101.95V385.1H102.65V397.1H103.35V401.2H104.05V402.8H104.75V397.7H105.45V398.4H106.15V401.6H106.85V406.1H107.55V393.8H108.25V398.0H108.95V397.5H109.65V397.8H110.35V373.2H111.05V373.9H111.75V375.8H112.45V394.3H113.15V396.9H113.85V394.4H114.55V395.5H115.25V400.4H115.95V405.0H116.65V398.7H117.35V401.1H118.05V401.7H118.75V401.2H119.45V400.7H120.15V403.0H120.85V400.7H121.55V400.9H122.25V405.1H122.95V404.7H123.65V401.1H124.35V403.1H125.05V403.9H125.75V403.5H126.45V403.9H127.15V401.8H127.85V403.7H128.55V403.0H129.25V403.8H129.95V405.7H130.65V405.8H131.35V404.2H132.05V403.2H132.75V402.7H133.45V404.1H134.15V403.6H134.85V405.0H135.55V403.2H136.25V405.4H136.95V405.2H137.65V406.2H138.35V404.9H139.05V405.7H139.75V406.6H140.45V404.9H141.15V405.7H141.85V403.7H142.55V403.8H143.25V406.9H143.95V404.1H144.65V405.3H145.35V404.8H146.05V404.8H146.75V403.8H147.45V404.3H148.15V404.4H148.85V405.8H149.55V405.2H150.25V404.8H150.95V405.6H151.65V404.3H152.35V404.5H153.05V404.4H153.75V407.0H154.45V404.5H155.15V406.2H155.85V404.5H156.55V406.2H157.25V405.3H157.95V396.6H158.65V406.0H159.35V404.8H160.05V405.0H160.75V406.1H161.45V405.0H162.15V405.5H162.85V405.0H163.55V406.0H164.25V406.0H164.95V406.4H165.65V405.1H166.35V406.8H167.05V405.6H167.75V405.6H168.45V405.3H169.15V402.9H169.85V405.7H170.55V406.0H171.25V406.1H171.95V406.6H172.65V406.9H173.35V405.6H174.05V406.2H174.75V405.6H175.45V406.2H176.15V405.6H176.85V405.6H177.55V406.5H178.25V405.7H178.95V406.1H179.65V405.8H180.35V407.7H181.05V406.2H181.75V406.0H182.45V406.0H183.15V406.4H183.85V407.5H184.55V406.6H185.25V405.9H185.95V405.9H186.65V407.2H187.35V405.9H188.05V406.7H188.75V406.0H189.45V406.1H190.15V406.5H190.85V406.1H191.55V406.1H192.25V406.7H192.95V406.3H193.65V406.9H194.35V406.6H195.05V406.2H195.75V406.2H196.45V406.5H197.15V407.0H197.85V407.0H198.55V406.6H199.25V407.5H199.95V407.8H200.65V406.5H201.35V406.5H202.05V406.4H202.75V408.0H203.45V407.5H204.15V389.1H204.85V406.5H205.55V407.1H206.25V407.4H206.95V407.8H207.65V406.7H208.35V406.6H209.05V407.2H209.75V407.1H210.45V407.7H211.15V407.6H211.85V406.9H212.55V407.3H213.25V407.2H213.95V407.6H214.65V407.1H215.35V406.9H216.05V407.0H216.75V406.7H217.45V407.6H218.15V407.7H218.85V406.9H219.55V406.8H220.25V406.8H220.95V406.9H221.65V406.9H222.35V407.2H223.05V407.6H223.75V407.0H224.45V407.3H225.15V407.8H225.85V407.3H226.55V407.3H227.25V407.2H227.95V405.2H228.65V408.1H229.35V407.0H230.05V407.7H230.75V407.1H231.45V407.5H232.15V407.5H232.85V407.3H233.55V407.5H234.25V407.6H234.95V407.1H235.65V407.2H236.35V407.3H237.05V407.6H237.75V407.3H238.45V407.2H239.15V407.4H239.85V407.2H240.55V407.4H241.25V407.6H241.95V407.8H242.65V407.4H243.35V407.2H244.05V408.1H244.75V407.8H245.45V407.7H246.15V407.6H246.85V407.4H247.55V407.6H248.25V408.2H248.95V407.3H249.65V408.1H250.35V365.8H251.05V370.0H251.75V407.4H252.45V407.4H253.15V407.6H253.85V407.4H254.55V408.0H255.25V407.6H255.95V407.6H256.65V407.4H257.35V407.9H258.05V407.5H258.75V407.5H259.45V408.0H260.15V407.9H260.85V407.7H261.55V407.5H262.25V407.5H262.95V407.9H263.65V407.7H264.35V407.6H265.05V407.6H265.75V408.0H266.45V407.6H267.15V407.6H267.85V407.6H268.55V407.5H269.25V407.5H269.95V407.6H270.65V407.5H271.35V408.1H272.05V407.5H272.75V407.5H273.45V407.7H274.15V407.5H274.85V407.6H275.55V407.7H276.25V407.5H276.95V407.7H277.65V407.5H278.35V407.6H279.05V407.4H279.75V407.5H280.45V407.9H281.15V408.2H281.85V408.0H282.55V407.9H283.25V407.5H283.95V407.4H284.65V407.7H285.35V407.5H286.05V408.4H286.75V407.5H287.45V407.4H288.15V407.9H288.85V407.4H289.55V407.5H290.25V407.7H290.95V407.7H291.65V407.2H292.35V407.6H293.05V406.7H293.75V406.4H294.45V406.5H295.15V406.1H295.85V406.4H296.55V342.7H297.25V405.2H297.95V394.0H298.65V407.1H299.35V407.3H300.05V406.8H300.75V407.9H301.45V407.6H302.15V407.7H302.85V407.6H303.55V407.8H304.25V408.0H304.95V407.7H305.65V407.4H306.35V407.4H307.05V407.5H307.75V407.8H308.45V407.7H309.15V407.4H309.85V407.5H310.55V407.6H311.25V407.7H311.95V407.8H312.65V407.7H313.35V408.3H314.05V408.0H314.75V407.7H315.45V407.7H316.15V407.8H316.85V407.8H317.55V407.6H318.25V408.0H318.95V407.6H319.65V407.9H320.35V402.0H321.05V407.6H321.75V407.7H322.45V407.8H323.15V408.1H323.85V407.8H324.55V407.8H325.25V407.7H325.95V408.0H326.65V408.0H327.35V408.1H328.05V407.7H328.75V407.8H329.45V407.8H330.15V407.8H330.85V408.2H331.55V406.2H332.25V407.8H332.95V408.0H333.65V407.8H334.35V407.9H335.05V408.2H335.75V407.9H336.45V407.8H337.15V408.0H337.85V408.0H338.55V407.7H339.25V407.8H339.95V408.0H340.65V408.0H341.35V407.8H342.05V408.1H342.75V408.2H343.45V402.7H344.15V408.0H344.85V408.1H345.55V408.1H346.25V407.8H346.95V408.1H347.65V407.8H348.35V408.1H349.05V407.8H349.75V408.0H350.45V408.2H351.15V407.8H351.85V407.9H352.55V407.8H353.25V407.9H353.95V408.1H354.65V407.8H355.35V408.1H356.05V407.9H356.75V407.8H357.45V408.1H358.15V408.0H358.85V407.8H359.55V407.9H360.25V408.0H360.95V407.8H361.65V407.8H362.35V408.1H363.05V407.8H363.75V407.8H364.45V407.8H365.15V407.8H365.85V407.8H366.55V406.6H367.25V408.1H367.95V407.8H368.65V408.1H369.35V407.8H370.05V408.0H370.75V407.9H371.45V408.3H372.15V408.0H372.85V408.0H373.55V408.0H374.25V408.0H374.95V407.8H375.65V408.0H376.35V407.9H377.05V407.9H377.75V408.2H378.45V403.8H379.15V407.9H379.85V408.0H380.55V407.9H381.25V407.8H381.95V408.0H382.65V407.8H383.35V407.9H384.05V407.8H384.75V408.0H385.45V407.9H386.15V408.0H386.85V407.8H387.55V407.9H388.25V407.9H388.95V408.0H389.65V408.0H390.35V407.1H391.05V408.3H391.75V407.8H392.45V407.9H393.15V407.8H393.85V408.0H394.55V408.0H395.25V408.0H395.95V408.2H396.65V407.8H397.35V408.2H398.05V407.9H398.75V408.0H399.45V407.9H400.15V408.2H400.85V407.8H401.55V407.8H402.25V407.9H402.95V406.2H403.65V407.9H404.35V407.8H405.05V408.0H405.75V407.8H406.45V407.8H407.15V407.9H407.85V407.8H408.55V407.8H409.25V407.8H409.95V407.8H410.65V408.0H411.35V408.1H412.05V407.8H412.75V407.9H413.45V406.4H414.15V407.9H414.85V408.0H415.55V407.9H416.25V408.1H416.95V407.9H417.65V408.1H418.35V408.0H419.05V407.9H419.75V407.9H420.45V408.0H421.15V408.0H421.85V408.0H422.55V407.9H423.25V408.0H423.95V408.0H424.65V400.3H425.35V408.2H426.05V407.9H426.75V408.1H427.45V407.8H428.15V407.9H428.85V407.9H429.55V408.1H430.25V407.9H430.95V408.2H431.65V407.9H432.35V408.2H433.05V407.9H433.75V407.9H434.45V407.9H435.15V407.9H435.85V407.9H436.55V406.6H437.25V408.0H437.95V407.9H438.65V408.0H439.35V408.0H440.05V408.0H440.75V407.9H441.45V407.8H442.15V407.9H442.85V407.8H443.55V408.1H444.25V407.9H444.95V407.9H445.65V408.0H446.35V408.1H447.05V407.9H447.75V408.0H448.45V408.0H449.15V409.0H448.45V409.0H447.75V409.1H447.05V409.1H446.35V409.0H445.65V408.9H444.95V408.9H444.25V409.1H443.55V408.8H442.85V408.9H442.15V408.8H441.45V409.1H440.75V409.0H440.05V409.0H439.35V409.0H438.65V409.0H437.95V411.3H437.25V409.0H436.55V408.9H435.85V408.9H435.15V409.1H434.45V408.9H433.75V409.1H433.05V409.2H432.35V409.1H431.65V409.2H430.95V409.1H430.25V409.1H429.55V409.1H428.85V409.1H428.15V408.8H427.45V409.1H426.75V409.0H426.05V409.2H425.35V410.8H424.65V409.0H423.95V409.1H423.25V408.9H422.55V409.1H421.85V409.1H421.15V409.0H420.45V408.9H419.75V409.1H419.05V409.1H418.35V409.1H417.65V408.9H416.95V409.1H416.25V409.1H415.55V409.0H414.85V408.9H414.15V410.4H413.45V409.0H412.75V408.8H412.05V409.2H411.35V409.0H410.65V409.1H409.95V408.8H409.25V409.2H408.55V408.8H407.85V409.2H407.15V409.2H406.45V409.1H405.75V409.1H405.05V408.8H404.35V409.0H403.65V410.4H402.95V408.9H402.25V408.9H401.55V409.1H400.85V409.2H400.15V409.2H399.45V409.0H398.75V408.9H398.05V409.2H397.35V408.9H396.65V409.2H395.95V409.1H395.25V409.2H394.55V409.2H393.85V408.8H393.15V409.2H392.45V409.1H391.75V409.3H391.05V413.6H390.35V409.2H389.65V409.1H388.95V408.9H388.25V409.1H387.55V409.2H386.85V409.0H386.15V409.2H385.45V409.0H384.75V409.2H384.05V409.2H383.35V409.1H382.65V409.2H381.95V409.2H381.25V409.1H380.55V409.2H379.85V409.1H379.15V409.9H378.45V409.2H377.75V409.2H377.05V409.2H376.35V409.1H375.65V408.9H374.95V409.1H374.25V409.0H373.55V409.0H372.85V409.2H372.15V409.3H371.45V409.2H370.75V409.0H370.05V409.1H369.35V409.2H368.65V409.2H367.95V409.1H367.25V413.6H366.55V409.1H365.85V409.1H365.15V409.1H364.45V408.8H363.75V409.2H363.05V409.2H362.35V408.8H361.65V408.8H360.95V409.2H360.25V409.2H359.55V409.0H358.85V409.0H358.15V409.1H357.45V409.1H356.75V409.0H356.05V409.2H355.35V409.0H354.65V409.1H353.95V409.2H353.25V409.1H352.55V409.2H351.85V409.2H351.15V409.2H350.45V409.0H349.75V408.9H349.05V409.1H348.35V409.1H347.65V409.1H346.95V409.2H346.25V409.1H345.55V409.2H344.85V409.2H344.15V413.2H343.45V409.2H342.75V409.2H342.05V408.8H341.35V409.0H340.65V409.2H339.95V409.2H339.25V408.7H338.55V409.2H337.85V409.2H337.15V409.2H336.45V409.1H335.75V409.2H335.05V409.0H334.35V408.8H333.65V409.1H332.95V409.1H332.25V410.8H331.55V409.2H330.85V409.1H330.15V409.1H329.45V408.9H328.75V408.7H328.05V409.1H327.35V409.0H326.65V409.3H325.95V409.0H325.25V409.1H324.55V408.9H323.85V409.3H323.15V409.4H322.45V408.7H321.75V409.3H321.05V411.3H320.35V409.3H319.65V409.4H318.95V409.4H318.25V409.2H317.55V409.5H316.85V409.5H316.15V409.1H315.45V409.5H314.75V409.5H314.05V409.3H313.35V409.3H312.65V409.4H311.95V409.2H311.25V409.6H310.55V409.2H309.85V409.1H309.15V409.3H308.45V409.3H307.75V409.5H307.05V409.6H306.35V408.6H305.65V409.6H304.95V409.6H304.25V409.5H303.55V409.4H302.85V409.7H302.15V409.7H301.45V409.8H300.75V409.1H300.05V409.6H299.35V410.2H298.65V413.2H297.95V411.4H297.25V489.1H296.55V411.9H295.85V411.4H295.15V411.1H294.45V410.2H293.75V409.6H293.05V409.8H292.35V409.2H291.65V408.9H290.95V408.7H290.25V409.2H289.55V409.4H288.85V409.2H288.15V409.6H287.45V409.6H286.75V409.6H286.05V409.6H285.35V408.9H284.65V409.3H283.95V409.5H283.25V409.6H282.55V409.6H281.85V409.6H281.15V409.4H280.45V408.6H279.75V409.2H279.05V409.4H278.35V409.5H277.65V409.3H276.95V409.5H276.25V409.2H275.55V409.5H274.85V409.4H274.15V409.2H273.45V409.5H272.75V409.5H272.05V409.1H271.35V409.4H270.65V409.0H269.95V409.3H269.25V409.3H268.55V408.8H267.85V409.3H267.15V409.2H266.45V409.4H265.75V409.4H265.05V409.4H264.35V409.2H263.65V409.5H262.95V409.5H262.25V409.0H261.55V409.4H260.85V409.5H260.15V409.1H259.45V409.5H258.75V409.6H258.05V409.3H257.35V409.4H256.65V409.1H255.95V409.5H255.25V409.4H254.55V409.3H253.85V409.6H253.15V409.3H252.45V409.6H251.75V423.7H251.05V409.4H250.35V409.7H249.65V409.1H248.95V409.5H248.25V409.7H247.55V409.3H246.85V409.7H246.15V409.2H245.45V409.7H244.75V409.7H244.05V408.8H243.35V409.6H242.65V409.4H241.95V409.1H241.25V409.0H240.55V409.8H239.85V409.6H239.15V409.5H238.45V408.8H237.75V409.5H237.05V408.7H236.35V409.9H235.65V409.9H234.95V409.7H234.25V409.4H233.55V409.9H232.85V410.0H232.15V409.4H231.45V410.0H230.75V409.9H230.05V409.7H229.35V409.9H228.65V410.0H227.95V409.6H227.25V409.7H226.55V410.1H225.85V409.9H225.15V409.9H224.45V410.1H223.75V409.9H223.05V409.3H222.35V409.6H221.65V410.2H220.95V410.2H220.25V410.2H219.55V410.0H218.85V410.1H218.15V410.3H217.45V410.3H216.75V410.2H216.05V409.9H215.35V409.8H214.65V410.3H213.95V409.9H213.25V410.0H212.55V410.4H211.85V410.4H211.15V410.4H210.45V410.4H209.75V410.0H209.05V410.4H208.35V409.9H207.65V409.9H206.95V409.0H206.25V409.1H205.55V410.6H204.85V420.9H204.15V410.3H203.45V410.2H202.75V409.5H202.05V409.8H201.35V409.5H200.65V410.6H199.95V410.7H199.25V409.9H198.55V409.7H197.85V410.5H197.15V410.6H196.45V410.0H195.75V410.2H195.05V410.1H194.35V409.9H193.65V410.4H192.95V410.3H192.25V410.4H191.55V410.8H190.85V410.4H190.15V410.0H189.45V410.1H188.75V410.2H188.05V410.8H187.35V411.0H186.65V410.7H185.95V410.8H185.25V408.8H184.55V411.0H183.85V410.8H183.15V411.0H182.45V409.9H181.75V417.8H181.05V410.1H180.35V409.5H179.65V411.0H178.95V411.0H178.25V410.3H177.55V411.0H176.85V409.9H176.15V411.0H175.45V410.3H174.75V410.4H174.05V410.1H173.35V411.1H172.65V410.2H171.95V410.2H171.25V410.5H170.55V411.2H169.85V411.3H169.15V411.5H168.45V410.2H167.75V411.3H167.05V410.3H166.35V411.6H165.65V411.0H164.95V411.1H164.25V411.1H163.55V410.5H162.85V410.9H162.15V410.5H161.45V410.7H160.75V411.8H160.05V411.9H159.35V411.9H158.65V417.8H157.95V412.0H157.25V411.4H156.55V411.0H155.85V410.3H155.15V411.6H154.45V410.6H153.75V410.8H153.05V412.2H152.35V411.3H151.65V411.5H150.95V411.6H150.25V410.0H149.55V412.4H148.85V412.5H148.15V411.4H147.45V415.5H146.75V411.7H146.05V412.1H145.35V412.1H144.65V410.3H143.95V411.7H143.25V412.8H142.55V411.7H141.85V412.7H141.15V410.6H140.45V411.6H139.75V413.0H139.05V413.0H138.35V413.2H137.65V411.1H136.95V412.1H136.25V410.7H135.55V413.3H134.85V420.4H134.15V413.6H133.45V413.7H132.75V413.0H132.05V410.2H131.35V413.8H130.65V411.9H129.95V412.6H129.25V412.4H128.55V410.2H127.85V414.2H127.15V412.9H126.45V412.6H125.75V412.2H125.05V409.6H124.35V414.7H123.65V414.6H122.95V413.9H122.25V411.2H121.55V414.1H120.85V412.3H120.15V414.2H119.45V413.5H118.75V415.4H118.05V410.8H117.35V416.1H116.65V417.5H115.95V419.5H115.25V417.3H114.55V419.5H113.85V415.8H113.15V433.0H112.45V422.5H111.75V424.8H111.05V422.5H110.35V420.9H109.65V415.8H108.95V416.6H108.25V418.7H107.55V418.8H106.85V420.5H106.15V419.3H105.45V420.3H104.75V416.6H104.05V412.1H103.35V417.8H102.65V420.7H101.95V419.8H101.25V421.4H100.55V421.5H99.85V421.9H99.15V421.8H98.45V418.6H97.75V415.5H97.05V419.2H96.35V423.1H95.65V423.2H94.95V413.7H94.25V413.6H93.55V417.6H92.85V422.9H92.15V422.4H91.45V422.8H90.75V415.1H90.05V428.5H89.35V447.5H88.65V422.7H87.95V435.3H87.25V443.5H86.55V440.7H85.85V446.6H85.15V455.2H84.45V456.8H83.75V471.5H83.05V453.8H82.35V478.5H81.65V478.5H80.95V499.6H80.25V501.9H79.55V490.2H78.85V493.7H78.15V465.0H77.45V443.5H76.75Z"/>
<polyline class="ld" points="578.7,429.8 580.0,449.5 581.0,427.1 581.8,381.1 582.9,382.4 583.7,406.1 585.0,411.4 586.1,410.0 587.6,397.7 588.9,408.7 590.3,412.7 591.8,402.9 593.4,409.2 594.7,406.1 596.3,415.3 597.6,401.4 599.0,418.7 600.8,394.2 602.4,417.9 603.7,403.5 605.3,411.4 606.9,399.5 608.7,414.0 610.3,410.8 611.6,415.3 612.9,403.5 614.0,372.4 615.0,379.8 616.1,406.1 617.9,410.8 620.6,411.4 623.2,405.6 624.8,412.7 627.2,409.2 628.7,407.7 630.3,406.6 632.0,409.0 633.7,411.9 636.4,408.2 638.0,410.5 639.5,412.7 641.6,407.4 643.6,409.3 645.6,411.4 647.7,406.1 649.3,406.9 650.9,408.2 653.0,404.8 654.6,406.2 656.1,407.4 658.8,405.6 660.9,402.1 662.7,408.7 664.6,410.0 666.3,409.4 668.0,408.7 670.0,409.1 671.9,410.0 674.6,408.2 677.2,409.2 679.2,408.7 681.2,408.2 682.7,409.0 684.3,410.0 686.4,412.7 688.3,409.2 689.9,409.7 691.4,409.6 693.0,409.2 695.0,408.2 697.0,407.7 699.6,409.5 701.6,408.7 703.6,408.7 705.5,409.3 707.5,410.6 709.5,409.0 711.5,406.9 713.4,407.7 715.4,408.2 717.2,408.1 718.9,408.1 720.7,408.7 722.3,408.3 724.0,408.3 725.6,408.4 727.3,408.2 729.2,408.8 731.2,410.0 733.9,408.2 735.5,408.0 737.2,408.1 738.8,408.3 740.4,408.7 742.0,408.8 743.6,408.3 745.2,408.5 746.8,408.4 748.3,408.2 750.1,408.5 751.9,409.1 753.6,409.2 755.7,407.4 757.6,396.1 759.2,407.4 761.5,408.7 763.5,408.2 765.5,408.2 767.2,408.5 768.9,409.1 770.6,409.3 772.3,409.2 773.9,408.5 775.5,408.6 777.1,407.9 778.6,408.1 780.2,407.7 781.5,409.2 783.1,409.4 784.6,409.6 786.2,409.5 787.7,409.2 789.2,409.6 790.8,409.8 792.7,409.7 794.7,409.2 796.0,410.8 798.1,408.7 800.0,411.4 801.8,410.0 803.4,421.9 804.7,411.4 806.0,391.6 807.1,406.1 808.7,403.5 810.5,407.4 813.2,406.1 815.8,408.2 818.4,406.6 821.1,408.2 823.0,407.2 825.0,406.6 827.7,405.6 829.8,409.2 831.7,409.2 833.6,408.1 835.6,408.2 837.1,408.4 838.7,408.0 840.3,408.3 841.9,408.3 843.5,408.2 845.2,407.6 847.0,407.1 848.7,406.9 851.4,407.4 854.0,410.0 856.6,408.2 858.2,408.2 859.7,408.4 861.3,407.8 862.9,408.1 864.4,408.6 866.0,407.8 867.5,408.2 869.1,408.6 870.6,407.8 872.2,408.3 873.8,408.2 876.4,409.8 879.0,408.2 880.6,408.6 882.1,408.0 883.7,408.6 885.3,408.2 886.8,408.4 888.4,408.0 889.9,408.3 891.5,408.0 893.0,408.2 894.6,408.4 896.2,408.2 897.7,409.4 899.3,410.3 902.0,408.2 903.4,408.6 904.9,407.8 906.4,408.6 907.9,408.2 909.4,408.0 910.9,408.1 912.4,408.1 913.9,408.5 915.4,407.9 916.9,408.1 918.4,407.8 919.9,408.2 922.5,409.2 925.1,407.9 926.7,407.9 928.3,407.8 929.9,407.9 931.5,408.3 933.0,408.2 935.7,407.4 938.3,408.5 939.9,408.4 941.5,408.9 943.1,409.0 944.6,409.3 946.2,409.2 948.8,407.9 950.5,408.3 952.2,408.1 953.9,408.4 955.5,407.8 957.2,408.3 958.9,408.2"/>
<g filter="url(#bl2)">
<rect x="76.8" y="41.9" width="379.2" height="187.1" fill="none" stroke="#7d7d7d" stroke-width="1.25"/>
<path d="M202.6 229.0v-4.3 M202.6 41.9v4.3 M329.0 229.0v-4.3 M329.0 41.9v4.3 M76.8 182.2h4.3 M456.0 182.2h-4.3 M76.8 135.4h4.3 M456.0 135.4h-4.3 M76.8 88.7h4.3 M456.0 88.7h-4.3" stroke="#7d7d7d" stroke-width="1" fill="none"/>
<text class="tk" text-anchor="end" x="73.5" y="48.8">400</text>
<text class="tk" text-anchor="end" x="73.5" y="95.6">200</text>
<text class="tk" text-anchor="end" x="73.5" y="142.3">0</text>
<text class="tk" text-anchor="end" x="73.5" y="189.1">-200</text>
<text class="tk" text-anchor="end" x="73.5" y="235.9">-400</text>
<text class="tk" text-anchor="middle" x="76.2" y="249.3">0</text>
<text class="tk" text-anchor="middle" x="202.6" y="249.3">2000</text>
<text class="tk" text-anchor="middle" x="329.0" y="249.3">4000</text>
<text class="tk" text-anchor="middle" x="455.4" y="249.3">6000</text>
<text class="yl" text-anchor="middle" textLength="178" lengthAdjust="spacingAndGlyphs" transform="translate(26.9 136.8) rotate(-90)">DCT Coefficients</text>
<rect x="578.2" y="41.9" width="380.6" height="187.2" fill="none" stroke="#7d7d7d" stroke-width="1.25"/>
<path d="M704.8 229.0v-4.3 M704.8 41.9v4.3 M831.7 229.0v-4.3 M831.7 41.9v4.3 M578.2 182.2h4.3 M958.9 182.2h-4.3 M578.2 135.4h4.3 M958.9 135.4h-4.3 M578.2 88.6h4.3 M958.9 88.6h-4.3" stroke="#7d7d7d" stroke-width="1" fill="none"/>
<text class="tk" text-anchor="end" x="574.9" y="48.8">400</text>
<text class="tk" text-anchor="end" x="574.9" y="95.5">200</text>
<text class="tk" text-anchor="end" x="574.9" y="142.3">0</text>
<text class="tk" text-anchor="end" x="574.9" y="189.1">-200</text>
<text class="tk" text-anchor="end" x="574.9" y="235.9">-400</text>
<text class="tk" text-anchor="middle" x="577.9" y="249.3">0</text>
<text class="tk" text-anchor="middle" x="704.8" y="249.3">2000</text>
<text class="tk" text-anchor="middle" x="831.7" y="249.3">4000</text>
<text class="tk" text-anchor="middle" x="958.6" y="249.3">6000</text>
<text class="yl" text-anchor="middle" textLength="178" lengthAdjust="spacingAndGlyphs" transform="translate(527.0 136.8) rotate(-90)">DCT Coefficients</text>
<rect x="76.8" y="315.1" width="379.2" height="186.8" fill="none" stroke="#7d7d7d" stroke-width="1.25"/>
<path d="M202.6 501.9v-4.3 M202.6 315.1v4.3 M329.0 501.9v-4.3 M329.0 315.1v4.3 M76.8 455.2h4.3 M456.0 455.2h-4.3 M76.8 408.5h4.3 M456.0 408.5h-4.3 M76.8 361.8h4.3 M456.0 361.8h-4.3" stroke="#7d7d7d" stroke-width="1" fill="none"/>
<text class="tk" text-anchor="end" x="73.5" y="322.0">400</text>
<text class="tk" text-anchor="end" x="73.5" y="368.7">200</text>
<text class="tk" text-anchor="end" x="73.5" y="415.4">0</text>
<text class="tk" text-anchor="end" x="73.5" y="462.1">-200</text>
<text class="tk" text-anchor="end" x="73.5" y="508.8">-400</text>
<text class="tk" text-anchor="middle" x="76.2" y="522.2">0</text>
<text class="tk" text-anchor="middle" x="202.6" y="522.2">2000</text>
<text class="tk" text-anchor="middle" x="329.0" y="522.2">4000</text>
<text class="tk" text-anchor="middle" x="455.4" y="522.2">6000</text>
<text class="yl" text-anchor="middle" textLength="178" lengthAdjust="spacingAndGlyphs" transform="translate(26.9 409.9) rotate(-90)">DCT Coefficients</text>
<rect x="578.2" y="315.1" width="380.6" height="186.8" fill="none" stroke="#7d7d7d" stroke-width="1.25"/>
<path d="M652.2 501.9v-4.3 M652.2 315.1v4.3 M726.6 501.9v-4.3 M726.6 315.1v4.3 M800.9 501.9v-4.3 M800.9 315.1v4.3 M875.3 501.9v-4.3 M875.3 315.1v4.3 M949.6 501.9v-4.3 M949.6 315.1v4.3 M578.2 455.2h4.3 M958.9 455.2h-4.3 M578.2 408.5h4.3 M958.9 408.5h-4.3 M578.2 361.8h4.3 M958.9 361.8h-4.3" stroke="#7d7d7d" stroke-width="1" fill="none"/>
<text class="tk" text-anchor="end" x="574.9" y="322.0">400</text>
<text class="tk" text-anchor="end" x="574.9" y="368.7">200</text>
<text class="tk" text-anchor="end" x="574.9" y="415.4">0</text>
<text class="tk" text-anchor="end" x="574.9" y="462.1">-200</text>
<text class="tk" text-anchor="end" x="574.9" y="508.8">-400</text>
<text class="tk" text-anchor="middle" x="577.9" y="522.2">0</text>
<text class="tk" text-anchor="middle" x="652.2" y="522.2">50</text>
<text class="tk" text-anchor="middle" x="726.6" y="522.2">100</text>
<text class="tk" text-anchor="middle" x="800.9" y="522.2">150</text>
<text class="tk" text-anchor="middle" x="875.3" y="522.2">200</text>
<text class="tk" text-anchor="middle" x="949.6" y="522.2">250</text>
<text class="yl" text-anchor="middle" textLength="178" lengthAdjust="spacingAndGlyphs" transform="translate(527.0 409.9) rotate(-90)">DCT Coefficients</text>
<text class="tt" y="25.2"><tspan x="50.0" textLength="201.5" lengthAdjust="spacingAndGlyphs">a) Block Sparsity of</tspan> <tspan class="vz" x="255.9" textLength="109.8" lengthAdjust="spacingAndGlyphs">vectorized</tspan> <tspan x="372.0" textLength="108.4" lengthAdjust="spacingAndGlyphs">MMV EEG</tspan></text>
<text class="tt" x="514.6" y="25.2" textLength="503.4" lengthAdjust="spacingAndGlyphs">b) Block Sparsity of concatenated EEG channels</text>
<text class="tt" x="49.6" y="297.8" textLength="433.5" lengthAdjust="spacingAndGlyphs">c) Block Sparsity of a 23sec EEG channel</text>
<text class="tt" x="556.2" y="297.8" textLength="422.5" lengthAdjust="spacingAndGlyphs">d) Block Sparsity of a 1sec EEG channel</text>
</g>
</svg>
</body></html>
